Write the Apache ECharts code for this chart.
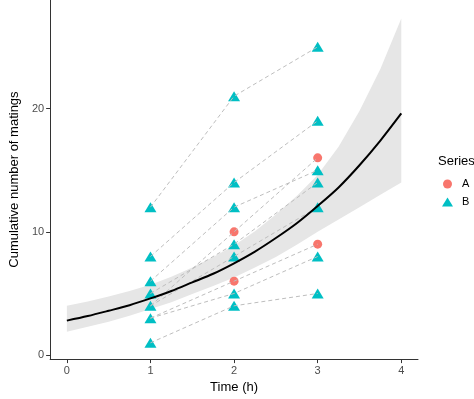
<!DOCTYPE html>
<html>
<head>
<meta charset="utf-8">
<script src="https://cdn.jsdelivr.net/npm/echarts@6/dist/echarts.min.js"></script>
<style>html,body{margin:0;padding:0;background:#fff;}#c{width:474px;height:399px;}</style>
</head>
<body>
<div id="c"></div>
<script>
const times = [1, 2, 3];
const groupA = [[4, 10, 16], [3, 6, 9]];
const groupB = [[12, 21, 25], [8, 14, 19], [6, 12, 15], [5, 9, 14], [4, 8, 12], [3, 5, 8], [1, 4, 5]];
const fitTime  = [0, 0.25, 0.5, 0.75, 1, 1.25, 1.5, 1.75, 2, 2.25, 2.5, 2.75, 3, 3.25, 3.5, 3.75, 4];
const fitMean  = [2.8, 3.17, 3.6, 4.05, 4.6, 5.2, 5.9, 6.6, 7.45, 8.4, 9.5, 10.7, 12.1, 13.6, 15.4, 17.4, 19.6];
const fitUpper = [4.0, 4.35, 4.75, 5.2, 5.7, 6.35, 7.1, 7.95, 8.9, 10.05, 11.4, 12.9, 14.6, 16.9, 19.8, 23.2, 27.3];
const fitLower = [1.9, 2.3, 2.7, 3.2, 3.75, 4.3, 4.95, 5.6, 6.3, 7.1, 7.95, 8.95, 10.0, 11.0, 12.0, 13.0, 14.0];
const xTicks = [0, 1, 2, 3, 4];
const yTicks = [0, 10, 20];

const chart = echarts.init(document.getElementById('c'), null, {renderer: 'canvas'});
const FONT = 'Liberation Sans, Arial, sans-serif';

const series = [];
series.push({
  type: 'custom', name: 'band', silent: true,
  data: [0],
  renderItem: function (params, api) {
    const up = fitTime.map((t, i) => api.coord([t, fitUpper[i]]));
    const lo = fitTime.map((t, i) => api.coord([t, fitLower[i]])).reverse();
    return {
      type: 'polygon',
      shape: {points: up.concat(lo)},
      style: {fill: '#e6e6e6', stroke: null}
    };
  }
});
const tracks = groupA.concat(groupB);
tracks.forEach((tr, k) => {
  series.push({
    type: 'line', name: 'track' + k, symbol: 'none', silent: true,
    lineStyle: {color: '#bebebe', width: 1, type: [4, 3]},
    data: times.map((t, i) => [t, tr[i]])
  });
});
series.push({
  type: 'line', name: 'fit', smooth: 0.3, symbol: 'none', silent: true,
  lineStyle: {color: '#000', width: 2},
  data: fitTime.map((t, i) => [t, fitMean[i]])
});
const pts = g => g.flatMap(tr => times.map((t, i) => [t, tr[i]]));
series.push({
  type: 'scatter', name: 'A', symbol: 'circle', symbolSize: 9,
  itemStyle: {color: '#F8766D', opacity: 1},
  // at time 1 the A points lie under B triangles in the reference and are not visible
  data: pts(groupA).map(p => p[0] === times[0] ? {value: p, itemStyle: {opacity: 0}} : p)
});
series.push({
  type: 'scatter', name: 'B', symbol: 'triangle', symbolSize: [12, 10],
  itemStyle: {color: '#00BFC4', opacity: 1}, data: pts(groupB)
});

chart.setOption({
  animation: false,
  backgroundColor: '#fff',
  textStyle: {fontFamily: FONT},
  grid: {left: 33, top: 0, width: 385, height: 367, containLabel: false},
  title: {
    text: 'Series', left: 438, top: 155, padding: 0,
    textStyle: {fontSize: 13, fontWeight: 'normal', color: '#000', fontFamily: FONT}
  },
  legend: {
    data: [{name: 'A', icon: 'circle'}, {name: 'B', icon: 'triangle'}],
    orient: 'vertical', left: 442, top: 178, padding: 0,
    itemWidth: 11, itemHeight: 9, itemGap: 6,
    textStyle: {fontSize: 11, color: '#000', lineHeight: 12, fontFamily: FONT, padding: [0, 0, 0, 4]}
  },
  xAxis: {
    type: 'value', min: -0.2, max: 4.2,
    name: 'Time (h)', nameLocation: 'middle', nameGap: 15,
    nameTextStyle: {fontSize: 13, color: '#000', fontFamily: FONT},
    axisLine: {onZero: false, lineStyle: {color: '#333', width: 1}},
    axisTick: {show: true, length: 4, lineStyle: {color: '#333'}, customValues: xTicks},
    axisLabel: {customValues: xTicks, margin: 6, fontSize: 11, color: '#4d4d4d', fontFamily: FONT},
    splitLine: {show: false}
  },
  yAxis: {
    type: 'value', min: -0.32, max: 28.8,
    name: 'Cumulative number of matings', nameLocation: 'middle', nameGap: 18, nameRotate: 90,
    nameTextStyle: {fontSize: 13, color: '#000', fontFamily: FONT},
    axisLine: {show: true, onZero: false, lineStyle: {color: '#333', width: 1}},
    axisTick: {show: true, length: 4, lineStyle: {color: '#333'}, customValues: yTicks},
    axisLabel: {customValues: yTicks, margin: 6, fontSize: 11, color: '#4d4d4d', fontFamily: FONT},
    splitLine: {show: false}
  },
  series: series
});
</script>
</body>
</html>
